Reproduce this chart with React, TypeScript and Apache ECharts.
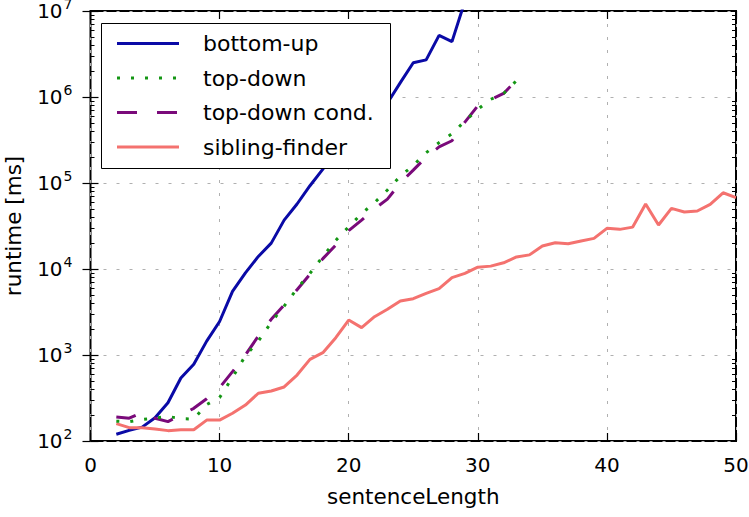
import React, { useEffect, useRef } from "react";
import * as echarts from "echarts";

// sentence lengths (x values)
const sentenceLengths = [
  2, 3, 4, 5, 6, 7, 8, 9, 10, 11, 12, 13, 14, 15, 16, 17, 18, 19, 20, 21, 22, 23, 24, 25,
  26, 27, 28, 29, 30, 31, 32, 33, 34, 35, 36, 37, 38, 39, 40, 41, 42, 43, 44, 45, 46, 47,
  48, 49, 50,
];

// runtimes in ms
const bottomUp = [
  120, 133, 145, 186, 278, 540, 780, 1450, 2450, 5500, 9000, 14000, 20000, 37000, 57000,
  93000, 145000, 220000, 320000, 450000, 620000, 850000, 1470000, 2500000, 2700000,
  5200000, 4400000, 13000000,
];
const topDown = [
  170, 168, 178, 185, 193, 182, 180, 265, 320, 550, 980, 1450, 2400, 3700, 5900, 8900,
  14000, 21500, 31000, 44000, 59000, 83000, 120000, 160000, 225000, 295000, 374000,
  525000, 720000, 940000, 1100000, 1550000,
];
const topDownCond = [
  190, 184, 215, 184, 168, 200, 240, 310, 417, 640, 1000, 1660, 2600, 3800, 5750, 8700,
  13200, 19000, 28000, 37000, 50000, 65000, 100000, 141000, 200000, 263000, 310000,
  510000, 790000, 930000, 1100000, 1580000,
];
const siblingFinder = [
  159, 143, 143, 138, 132, 135, 135, 175, 175, 210, 262, 359, 381, 425, 585, 890, 1065,
  1590, 2550, 2080, 2790, 3400, 4250, 4520, 5210, 5900, 7940, 8900, 10500, 10800, 11800,
  13800, 14600, 18500, 20200, 19700, 21200, 22700, 29700, 28900, 30700, 57000, 32500,
  50700, 46000, 47200, 56500, 77000, 67600,
];

const seriesNames = ["bottom-up", "top-down", "top-down cond.", "sibling-finder"];
const xTickValues = [0, 10, 20, 30, 40, 50];
const yMajorTicks = [1e2, 1e3, 1e4, 1e5, 1e6, 1e7];
const minorMultipliers = [2, 3, 4, 5, 6, 7, 8, 9];

const colors = ["#0a0aa6", "#149614", "#7a0a7a", "#f4726f"];
const dashes: (number[] | null)[] = [null, [3, 11], [20, 20], null];
const FONT = "DejaVu Sans";

const toPairs = (vals: number[]) => vals.map((v, i) => [sentenceLengths[i], v]);

export default function App() {
  const ref = useRef<HTMLDivElement>(null);

  useEffect(() => {
    if (!ref.current) return;
    const chart = echarts.init(ref.current, null, { renderer: "svg" });

    // minor tick positions expressed as decimal exponents (for a linear helper axis)
    const minorExponents = yMajorTicks
      .slice(0, -1)
      .flatMap((d) => minorMultipliers.map((m) => Math.log10(d * m)));
    const majorExponents = yMajorTicks.map((d) => Math.log10(d));

    const gridLeft = 90.5;
    const gridTop = 11;
    const gridRight = 749 - 736;
    const gridBottom = 517 - 441;

    const xAxisBase = {
      type: "value" as const,
      min: 0,
      max: 50,
      interval: 10,
      axisLine: { show: false },
      axisTick: { show: true, inside: true, length: 8, lineStyle: { color: "#000", width: 1.2 } },
    };

    const expAxisBase = {
      type: "value" as const,
      min: majorExponents[0],
      max: majorExponents[majorExponents.length - 1],
      axisLine: { show: false },
      axisLabel: { show: false },
      splitLine: { show: false },
    };

    const rowY = [43.5, 78, 112.5, 147];

    const allData = [bottomUp, topDown, topDownCond, siblingFinder];

    chart.setOption({
      animation: false,
      grid: {
        left: gridLeft,
        top: gridTop,
        right: gridRight,
        bottom: gridBottom,
        containLabel: false,
        outerBoundsMode: "none",
        show: true,
        borderColor: "#000",
        borderWidth: 2,
        backgroundColor: "transparent",
      },
      xAxis: [
        {
          ...xAxisBase,
          position: "bottom",
          name: "sentenceLength",
          nameLocation: "middle",
          nameGap: 44,
          nameTextStyle: { fontFamily: FONT, fontSize: 21.5, color: "#000" },
          axisLabel: {
            show: true,
            margin: 14,
            fontFamily: FONT,
            fontSize: 20,
            color: "#000",
            customValues: xTickValues,
          },
          splitLine: {
            show: true,
            lineStyle: { color: "#b0b0b0", type: [3, 10], width: 1 },
          },
        },
        {
          ...xAxisBase,
          position: "top",
          axisLabel: { show: false },
          splitLine: { show: false },
        },
      ],
      yAxis: [
        {
          type: "log",
          min: 100,
          max: 1e7,
          logBase: 10,
          axisLine: { show: false },
          position: "left",
          name: "runtime [ms]",
          nameLocation: "middle",
          nameGap: 66,
          nameRotate: 90,
          nameTextStyle: { fontFamily: FONT, fontSize: 21.5, color: "#000" },
          axisTick: {
            show: true,
            inside: true,
            length: 8,
            lineStyle: { color: "#000", width: 1.2 },
          },
          axisLabel: {
            show: true,
            margin: 18,
            formatter: (v: number) => `{b|10}{s|${Math.round(Math.log10(v))}}`,
            rich: {
              b: { fontFamily: FONT, fontSize: 20, color: "#000", verticalAlign: "middle" },
              s: {
                fontFamily: FONT,
                fontSize: 14,
                color: "#000",
                verticalAlign: "middle",
                padding: [0, 0, 15, 1],
              },
            },
          },
          splitLine: {
            show: true,
            lineStyle: { color: "#b0b0b0", type: [3, 10], width: 1 },
          },
        },
        {
          ...expAxisBase,
          position: "right",
          axisTick: {
            show: true,
            inside: true,
            length: 8,
            customValues: majorExponents,
            lineStyle: { color: "#000", width: 1.2 },
          },
        },
        {
          ...expAxisBase,
          position: "left",
          axisTick: {
            show: true,
            inside: true,
            length: 4,
            customValues: minorExponents,
            lineStyle: { color: "#000", width: 1 },
          },
        },
        {
          ...expAxisBase,
          position: "right",
          axisTick: {
            show: true,
            inside: true,
            length: 4,
            customValues: minorExponents,
            lineStyle: { color: "#000", width: 1 },
          },
        },
      ],
      series: seriesNames.map((name, i) => ({
        name,
        type: "line",
        xAxisIndex: 0,
        yAxisIndex: 0,
        symbol: "none",
        showSymbol: false,
        clip: true,
        data: toPairs(allData[i]),
        lineStyle: {
          color: colors[i],
          width: 3,
          type: dashes[i] ?? "solid",
          cap: "butt",
        },
        itemStyle: { color: colors[i] },
        z: 2 + (i === 1 ? 1 : 0),
      })),
      graphic: [
        {
          type: "rect",
          z: 100,
          shape: { x: 101.5, y: 23.5, width: 289, height: 145 },
          style: { fill: "#fff", stroke: "#000", lineWidth: 1 },
        },
        ...seriesNames.map((_, i) => ({
          type: "line",
          z: 101,
          shape: { x1: 117, y1: rowY[i], x2: 179, y2: rowY[i] },
          style: {
            stroke: colors[i],
            lineWidth: 3,
            lineDash: dashes[i] ?? null,
            lineCap: "butt",
          },
        })),
        ...seriesNames.map((name, i) => ({
          type: "text",
          z: 101,
          x: 203,
          y: rowY[i],
          style: {
            text: name,
            fontFamily: FONT,
            fontSize: 22,
            fill: "#000",
            verticalAlign: "middle",
            align: "left",
          },
        })),
      ],
    });

    return () => chart.dispose();
  }, []);

  return (
    <div
      ref={ref}
      style={{ position: "fixed", left: 0, top: 0, width: 749, height: 517, background: "#fff" }}
    />
  );
}
